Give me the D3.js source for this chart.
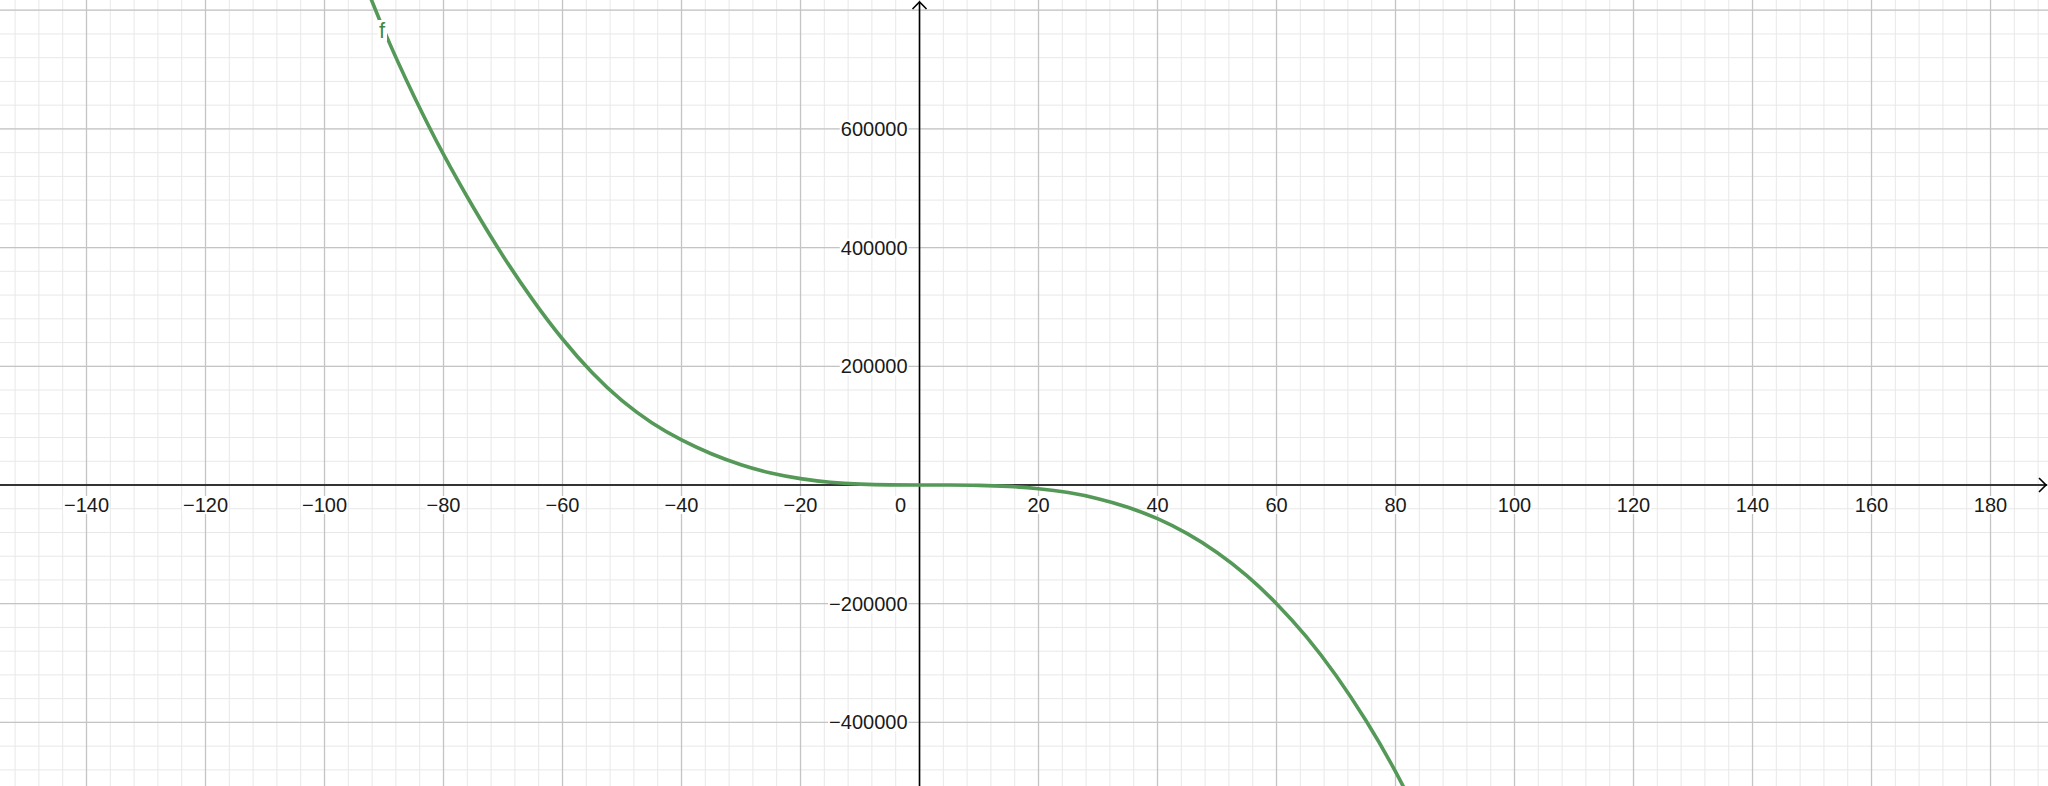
<!DOCTYPE html>
<html lang="en">
<head>
  <meta charset="UTF-8" />
  <title>f(x)</title>
  <script src="https://d3js.org/d3.v7.min.js"></script>
  <style>
    body { margin: 0; background: #fff; overflow: hidden; }
    text { font-family: "Liberation Sans", Arial, sans-serif; }
  </style>
</head>
<body>
  <svg id="chart" width="2048" height="786"></svg>

  <script>
    // values
    const xs = [-95, -90, -85, -80, -75, -70, -65, -60, -55, -50, -45, -40, -35, -30, -25, -20, -15, -10, -5,
                0, 5, 10, 15, 20, 25, 30, 35, 40, 45, 50, 55, 60, 65, 70, 75, 80, 85];
    const fx = [890000, 766000, 656000, 557000, 468000, 386000, 312000, 246000, 189000, 142000, 105000, 76000,
                52700, 34200, 20200, 10700, 4600, 1500, 250,
                0, -15, -550, -2350, -6200, -12800, -23000, -37400, -56800, -82000, -113700, -152700, -200000,
                -255600, -321000, -396500, -483000, -581500];
    const xTicks = [-140, -120, -100, -80, -60, -40, -20, 20, 40, 60, 80, 100, 120, 140, 160, 180];
    const yTicks = [-400000, -200000, 200000, 400000, 600000];

    const width = 2048, height = 786;
    const svg = d3.select("#chart");

    const x = d3.scaleLinear().domain([-154.54, 189.66]).range([0, width]);
    const y = d3.scaleLinear().domain([-507161, 817186]).range([height, 0]);

    const fmt = (v) => (v < 0 ? "\u2212" + Math.abs(v) : String(v));

    // minor grid
    const grid = svg.append("g");
    grid.selectAll(".vminor")
      .data(d3.range(-156, 192, 4))
      .enter().append("line")
      .attr("x1", (d) => x(d)).attr("x2", (d) => x(d))
      .attr("y1", 0).attr("y2", height)
      .style("stroke", "#e8e8e8").style("stroke-width", 1);
    grid.selectAll(".hminor")
      .data(d3.range(-520000, 840000, 40000))
      .enter().append("line")
      .attr("x1", 0).attr("x2", width)
      .attr("y1", (d) => y(d)).attr("y2", (d) => y(d))
      .style("stroke", "#e8e8e8").style("stroke-width", 1);

    // major grid
    grid.selectAll(".vmajor")
      .data(d3.range(-160, 200, 20))
      .enter().append("line")
      .attr("x1", (d) => x(d)).attr("x2", (d) => x(d))
      .attr("y1", 0).attr("y2", height)
      .style("stroke", "#c4c4c4").style("stroke-width", 1.3);
    grid.selectAll(".hmajor")
      .data(d3.range(-600000, 1000000, 200000))
      .enter().append("line")
      .attr("x1", 0).attr("x2", width)
      .attr("y1", (d) => y(d)).attr("y2", (d) => y(d))
      .style("stroke", "#c4c4c4").style("stroke-width", 1.3);

    // axes
    const x0 = x(0), y0 = y(0);
    svg.append("line")
      .attr("x1", 0).attr("x2", width - 1).attr("y1", y0).attr("y2", y0)
      .style("stroke", "#000").style("stroke-width", 1.6);
    svg.append("line")
      .attr("x1", x0).attr("x2", x0).attr("y1", 2).attr("y2", height)
      .style("stroke", "#000").style("stroke-width", 1.6);
    svg.append("path")
      .attr("d", `M${width - 9},${y0 - 7} L${width - 2},${y0} L${width - 9},${y0 + 7}`)
      .style("fill", "none").style("stroke", "#000").style("stroke-width", 1.6);
    svg.append("path")
      .attr("d", `M${x0 - 7},${9} L${x0},${2} L${x0 + 7},${9}`)
      .style("fill", "none").style("stroke", "#000").style("stroke-width", 1.6);

    // labels with white backing
    function label(g, txt, px, py, anchor, color, size) {
      const t = g.append("text")
        .attr("x", px).attr("y", py)
        .attr("text-anchor", anchor)
        .style("font-size", (size || 20) + "px")
        .style("fill", color || "#1a1a1a")
        .text(txt);
      const b = t.node().getBBox();
      g.insert("rect", "text")
        .attr("x", b.x - 1).attr("y", b.y + 2)
        .attr("width", b.width + 2).attr("height", b.height - 4)
        .style("fill", "#fff");
    }

    xTicks.forEach((v) => {
      label(svg.append("g"), fmt(v), x(v), y0 + 27, "middle");
    });
    label(svg.append("g"), "0", x0 - 19, y0 + 27, "middle");
    yTicks.forEach((v) => {
      label(svg.append("g"), fmt(v), x0 - 12, y(v) + 7, "end");
    });

    // function curve
    const pts = xs.map((d, i) => [d, fx[i]]);
    svg.append("defs").append("clipPath").attr("id", "clip")
      .append("rect").attr("width", width).attr("height", height);
    svg.append("path")
      .datum(pts)
      .attr("clip-path", "url(#clip)")
      .attr("d", d3.line().x((d) => x(d[0])).y((d) => y(d[1])).curve(d3.curveNatural))
      .style("fill", "none")
      .style("stroke", "#559958")
      .style("stroke-width", 3.6);

    label(svg.append("g"), "f", 379, 38, "start", "#3e8a46", 22);
  </script>
</body>
</html>
